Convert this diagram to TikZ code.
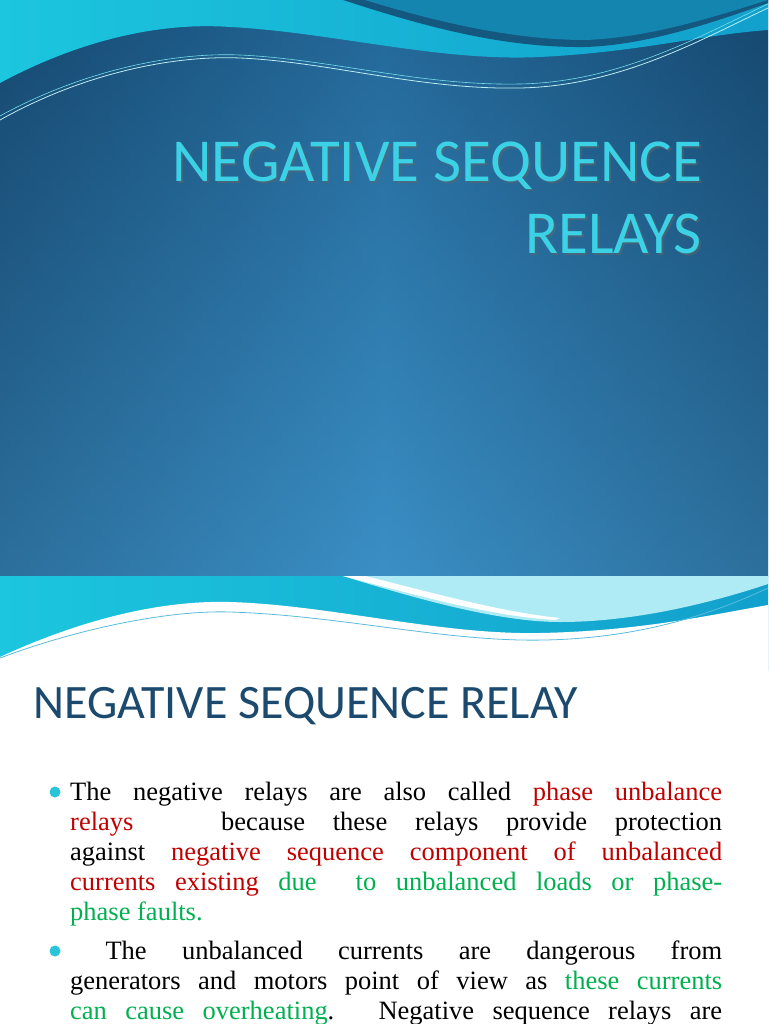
\documentclass[tikz,border=0pt]{standalone}
\usepackage{fontspec}
\setmainfont{Liberation Serif}
\newfontfamily\carl{Carlito}
\definecolor{ttl}{HTML}{3CD2E6}
\definecolor{hd}{HTML}{1B4A6E}
\definecolor{rd}{HTML}{C00000}
\definecolor{gr}{HTML}{00B050}
\definecolor{bul}{HTML}{29C4D9}
\definecolor{navy}{HTML}{14456C}
\definecolor{midb}{HTML}{2E7FB6}
\definecolor{lightb}{HTML}{4AA3D8}
\definecolor{cyan1}{HTML}{1CC6DE}
\definecolor{cyan2}{HTML}{12A0CC}
\tikzset{
  titletext/.style={anchor=base east,font=\carl\fontsize{61}{61}\selectfont,text=ttl,inner sep=0},
  titleshadow/.style={anchor=base east,font=\carl\fontsize{61}{61}\selectfont,text=black!60,opacity=0.5,inner sep=0},
  bodytext/.style={anchor=north west,inner sep=0,text width=652pt,align=justify,font=\fontsize{26.5}{30}\selectfont},
  bulletdot/.style={circle,fill=bul,inner sep=0,minimum size=11pt}
}
\begin{document}
\begin{tikzpicture}[x=1pt,y=-1pt]
\useasboundingbox (0,0) rectangle (768,1024);
\fill[white] (0,0) rectangle (768,1024);
% background of title area
\shade[top color=navy!90!midb,bottom color=lightb] (0,0) rectangle (768,576);
\shade[left color=navy,right color=navy,middle color=midb,opacity=0.55] (0,0) rectangle (768,576);
% top wave cyan band
\shade[left color=cyan1,right color=cyan2] (0,0) -- (0,83) .. controls (80,40) and (160,22) .. (230,27)
  .. controls (330,32) and (440,62) .. (540,57) .. controls (640,52) and (700,35) .. (768,30) -- (768,0) -- cycle;
\fill[navy!80!cyan2] (343,0) .. controls (420,25) and (500,48) .. (585,47) .. controls (650,45) and (720,20) .. (768,3) -- (768,0) -- cycle;
\fill[cyan2!70!navy] (365,0) .. controls (430,20) and (510,40) .. (585,40) .. controls (650,38) and (720,15) .. (768,0) -- cycle;
\draw[white!70!cyan1,line width=0.8pt] (0,120) .. controls (80,75) and (170,55) .. (240,58)
  .. controls (330,62) and (420,90) .. (520,88) .. controls (620,86) and (700,40) .. (768,8);
\draw[cyan1!60!white,line width=0.6pt] (0,116) .. controls (80,72) and (170,52) .. (240,55)
  .. controls (330,59) and (420,86) .. (520,84) .. controls (620,82) and (700,36) .. (768,4);
% bottom wave
\shade[left color=cyan1,right color=cyan2] (0,576) rectangle (768,670);
\fill[white!65!cyan1] (343,576) .. controls (420,600) and (500,622) .. (560,622)
  .. controls (640,622) and (720,600) .. (768,584) -- (768,576) -- cycle;
\fill[white] (343,576) .. controls (420,596) and (490,616) .. (555,620) -- (560,618)
  .. controls (500,612) and (430,592) .. (365,576) -- cycle;
\fill[white] (0,680) -- (0,657) .. controls (80,620) and (160,600) .. (230,602)
  .. controls (330,605) and (440,635) .. (540,633) .. controls (640,631) and (710,615) .. (768,605) -- (768,680) -- cycle;
\draw[cyan2!70!white,line width=0.8pt] (0,658) .. controls (80,628) and (170,610) .. (230,612)
  .. controls (330,615) and (430,638) .. (520,640) .. controls (620,642) and (700,620) .. (768,588);
% title
\node[titleshadow] (t1s) at (704,184) {NEGATIVE SEQUENCE};
\node[titleshadow] (t2s) at (704,255) {RELAYS};
\node[titletext] (t1) at (702,182) {NEGATIVE SEQUENCE};
\node[titletext] (t2) at (702,253) {RELAYS};
% heading
\node[anchor=base west,inner sep=0,font=\carl\fontsize{48}{48}\selectfont,text=hd] (h) at (33,718) {NEGATIVE SEQUENCE RELAY};
% bullets
\node[bulletdot] (b1) at (55,792) {};
\node[bulletdot] (b2) at (55,951) {};
\node[bodytext] (p1) at (70,782) {The negative relays are also called \textcolor{rd}{phase unbalance}\linebreak
\textcolor{rd}{relays}\hspace{60pt} because these relays provide protection\linebreak
against \textcolor{rd}{negative sequence component of unbalanced}\linebreak
\textcolor{rd}{currents existing} \textcolor{gr}{due\ \ to unbalanced loads or phase-}\linebreak
\textcolor{gr}{phase faults.}};
\node[bodytext] (p2) at (70,941) {\ The unbalanced currents are dangerous from\linebreak
generators and motors point of view as \textcolor{gr}{these currents}\linebreak
\textcolor{gr}{can cause overheating}. Negative sequence relays are\linebreak\mbox{}};
\end{tikzpicture}
\end{document}
